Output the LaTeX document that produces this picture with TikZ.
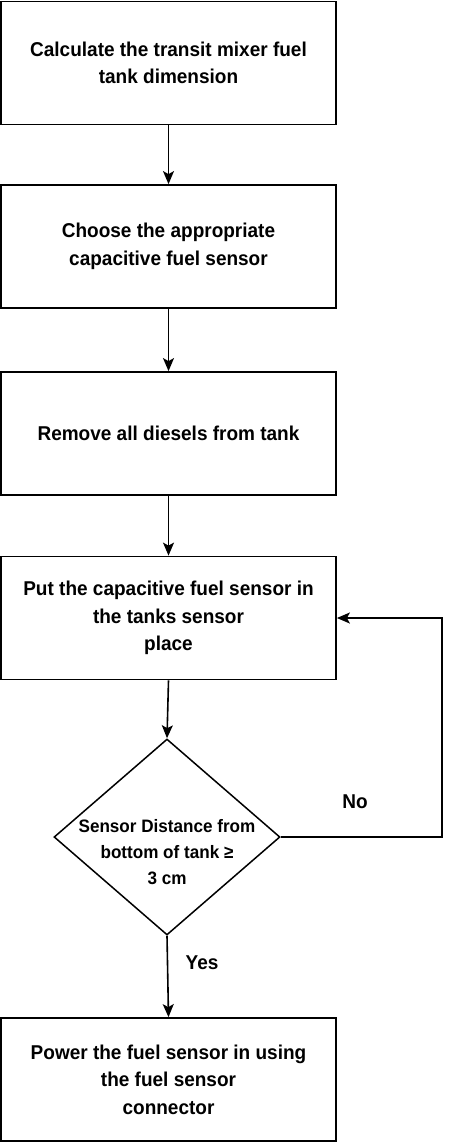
\documentclass[tikz,border=0pt]{standalone}
\usepackage{fontspec}
\setmainfont{Liberation Sans}[FakeStretch=0.95]
\usetikzlibrary{arrows.meta,shapes.geometric}

\tikzset{
	stepbox/.style={draw, line width=1.8pt, minimum width=335pt, minimum height=123pt,
		align=center, font=\bfseries\fontsize{20}{27.5}\selectfont},
	decision/.style={draw, diamond, line width=1.5pt, minimum width=226pt, minimum height=196pt, inner sep=0pt},
	flow/.style={line width=1.6pt, -{Stealth[length=13pt,width=11pt,inset=3pt]}},
	tag/.style={font=\bfseries\fontsize{20}{27}\selectfont}
}

\begin{document}
\begin{tikzpicture}[x=1pt,y=-1pt]
\useasboundingbox (0,0) rectangle (449,1143);

\node[stepbox] (s1) at (168.5,63) {Calculate the transit mixer fuel\\tank dimension};
\node[stepbox] (s2) at (168.5,246.5) {Choose the appropriate\\capacitive fuel sensor};
\node[stepbox] (s3) at (168.5,433.5) {Remove all diesels from tank};
\node[stepbox] (s4) at (168.5,618) {Put the capacitive fuel sensor in\\the tanks sensor\\place};
\node[decision] (check) at (167,837) {};
\node[align=center, font=\bfseries\fontsize{18}{26}\selectfont] (checktext) at (167,852) {Sensor Distance from\\bottom of tank ≥\\3 cm};
\node[stepbox] (s5) at (168.5,1079.5) {Power the fuel sensor in using\\the fuel sensor\\connector};

\coordinate (turn) at (442,837);

\foreach \a/\b in {s1/s2, s2/s3, s3/s4, s4/check}
{
	\draw[flow] (\a.south) -- (\b.north);
};

\draw[flow] (check.south) -- (s5.north);
\draw[flow] (check.east) -- (turn) |- (s4.east);

\node[tag] (no) at (355,802) {No};
\node[tag] (yes) at (202,963) {Yes};
\end{tikzpicture}
\end{document}
